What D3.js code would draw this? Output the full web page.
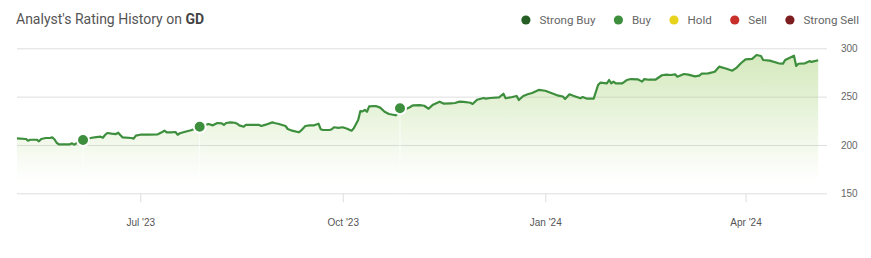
<!DOCTYPE html>
<html>
<head>
<meta charset="utf-8">
<script src="https://d3js.org/d3.v7.min.js"></script>
<style>
  body { margin: 0; background: #fff; font-family: Roboto, "Noto Sans", sans-serif; }
  .grid line { stroke: #dedede; }
  .grid text { fill: #666; font-size: 10px; }
  .x-axis line { stroke: #dedede; }
  .x-axis text { fill: #555; font-size: 10px; }
  .legend-text { fill: #666; font-size: 11.6px; }
</style>
</head>
<body>
<div id="wrapper"></div>
<script>
// price history
const priceDates = [
  "2023-05-06","2023-05-10","2023-05-11","2023-05-12","2023-05-15","2023-05-16","2023-05-17","2023-05-19","2023-05-21","2023-05-22",
  "2023-05-23","2023-05-24","2023-05-25","2023-05-26","2023-05-30","2023-05-31","2023-06-01","2023-06-03","2023-06-05","2023-06-09",
  "2023-06-11","2023-06-13","2023-06-14","2023-06-15","2023-06-16","2023-06-18","2023-06-20","2023-06-21","2023-06-22","2023-06-23",
  "2023-06-27","2023-06-28","2023-06-29","2023-07-01","2023-07-05","2023-07-09","2023-07-11","2023-07-12","2023-07-13","2023-07-15",
  "2023-07-17","2023-07-18","2023-07-19","2023-07-21","2023-07-24","2023-07-26","2023-07-28",
  "2023-08-01","2023-08-03","2023-08-05","2023-08-07","2023-08-08","2023-08-09","2023-08-11","2023-08-13","2023-08-14","2023-08-15",
  "2023-08-17","2023-08-18","2023-08-21","2023-08-24","2023-08-25","2023-08-27","2023-08-30","2023-08-31","2023-09-02","2023-09-05",
  "2023-09-06","2023-09-08","2023-09-11","2023-09-12","2023-09-14","2023-09-16","2023-09-18","2023-09-20","2023-09-21","2023-09-22",
  "2023-09-25","2023-09-26","2023-09-27","2023-09-29",
  "2023-10-01","2023-10-03","2023-10-05","2023-10-06","2023-10-08","2023-10-09","2023-10-10","2023-10-11","2023-10-12","2023-10-13",
  "2023-10-16","2023-10-18","2023-10-20","2023-10-22","2023-10-25","2023-10-27","2023-10-31",
  "2023-11-02","2023-11-05","2023-11-07","2023-11-09","2023-11-11","2023-11-14","2023-11-16","2023-11-19","2023-11-21","2023-11-23",
  "2023-11-25","2023-11-28","2023-11-29",
  "2023-12-01","2023-12-04","2023-12-05","2023-12-07","2023-12-11","2023-12-13","2023-12-14","2023-12-17","2023-12-19","2023-12-20",
  "2023-12-22","2023-12-24","2023-12-26","2023-12-29",
  "2024-01-01","2024-01-04","2024-01-07","2024-01-09","2024-01-10","2024-01-12","2024-01-14","2024-01-17","2024-01-18","2024-01-20",
  "2024-01-23","2024-01-25","2024-01-26","2024-01-29","2024-01-30","2024-01-31",
  "2024-02-01","2024-02-02","2024-02-05","2024-02-07","2024-02-09","2024-02-12","2024-02-14","2024-02-15","2024-02-17","2024-02-20",
  "2024-02-23","2024-02-25","2024-02-27","2024-02-29",
  "2024-03-01","2024-03-04","2024-03-06","2024-03-09","2024-03-11","2024-03-12","2024-03-15","2024-03-18","2024-03-20","2024-03-23",
  "2024-03-26","2024-03-28","2024-03-30",
  "2024-04-01","2024-04-04","2024-04-06","2024-04-08","2024-04-09","2024-04-12","2024-04-16","2024-04-18","2024-04-19","2024-04-23",
  "2024-04-24","2024-04-25","2024-04-28","2024-04-30","2024-05-01","2024-05-04"
]
const priceValues = [
  206.9,206.2,204.4,205.4,205.4,203.8,206.2,207.2,207.2,207.9,
  205.9,202.3,200.7,200.7,200.7,201.7,200.3,203.1,205.1,207.5,
  208.2,208.6,207.5,210.3,212.4,211.7,211.3,212.7,210.0,207.9,
  207.2,206.5,209.6,210.6,210.6,211.0,213.4,214.8,213.1,213.1,
  213.4,210.6,212.1,213.4,215.2,216.8,218.9,
  221.7,220.3,222.7,222.4,220.7,222.7,223.4,223.0,222.0,220.3,
  218.9,220.7,220.7,220.7,219.6,221.0,223.4,222.7,221.7,219.6,
  216.5,214.8,213.1,214.8,219.6,220.3,220.3,222.0,216.2,215.5,
  215.5,216.2,218.3,217.6,
  218.3,216.8,214.8,217.2,225.8,235.1,234.8,236.2,234.4,240.0,
  240.3,238.6,234.4,232.0,230.7,234.5,238.6,
  241.0,241.3,240.6,237.5,241.7,244.8,242.7,243.1,243.4,244.8,
  244.5,243.7,242.4,
  246.8,248.6,247.9,248.6,249.3,253.0,248.3,249.6,250.7,246.5,
  250.7,252.4,253.8,256.9,
  256.1,253.5,251.0,250.1,247.6,252.4,250.7,248.3,249.6,247.9,
  247.9,262.0,264.4,263.8,267.2,263.8,
  265.5,263.8,263.8,267.2,268.2,267.9,265.5,268.2,267.5,267.5,
  272.1,272.7,272.4,273.1,
  270.6,273.4,272.7,271.0,271.7,273.7,274.1,275.8,281.0,279.1,
  276.8,280.1,284.8,
  288.6,289.1,293.1,292.0,287.9,287.2,284.5,284.1,287.9,292.3,
  281.7,284.0,284.5,286.7,286.0,287.6
]

// analyst ratings shown as dots
const ratingDates = ["2023-06-05", "2023-07-28", "2023-10-27"]
const ratingValues = [205.1, 218.9, 237.9]
const ratingKinds = ["Buy", "Buy", "Buy"]

// legend
const ratingCategories = ["Strong Buy", "Buy", "Hold", "Sell", "Strong Sell"]
const ratingColors = ["#265e26", "#3d8f3d", "#e8d31c", "#c9302c", "#7d1d1f"]

// axes
const yTicks = [150, 200, 250, 300]
const xTicks = ["2023-07-01", "2023-10-01", "2024-01-01", "2024-04-01"]
const xDomain = ["2023-05-06", "2024-05-08"]

function drawChart() {
  const parseDate = d3.timeParse("%Y-%m-%d")
  const dataset = priceDates.map((d, i) => ({ date: parseDate(d), value: priceValues[i] }))
  const ratings = ratingDates.map((d, i) => ({ date: parseDate(d), value: ratingValues[i], kind: ratingKinds[i] }))
  const xAccessor = d => d.date
  const yAccessor = d => d.value
  const colorOf = kind => ratingColors[ratingCategories.indexOf(kind)]

  let dimensions = {
    width: 871,
    height: 258,
    margin: { top: 48.3, right: 44, bottom: 64.7, left: 17 },
  }
  dimensions.boundedWidth = dimensions.width - dimensions.margin.left - dimensions.margin.right
  dimensions.boundedHeight = dimensions.height - dimensions.margin.top - dimensions.margin.bottom

  const wrapper = d3.select("#wrapper")
    .append("svg")
      .attr("width", dimensions.width)
      .attr("height", dimensions.height)

  // title
  const title = wrapper.append("text")
      .attr("x", 16)
      .attr("y", 24)
      .style("font-size", "14px")
      .style("fill", "#555")
  title.append("tspan").text("Analyst's Rating History on ")
  title.append("tspan").style("font-weight", "bold").style("fill", "#444").text("GD")

  // legend, laid out left to right then pushed against the right edge
  const legendGroup = wrapper.append("g")
  const legendItems = legendGroup.selectAll(".legend-item")
    .data(ratingCategories)
    .join("g")
      .attr("class", "legend-item")
  legendItems.append("circle")
      .attr("r", 4.6)
      .attr("fill", (d, i) => ratingColors[i])
  legendItems.append("text")
      .attr("class", "legend-text")
      .attr("x", 13.5)
      .attr("y", 4.3)
      .text(d => d)
  let cursor = 0
  legendItems.each(function () {
    const w = d3.select(this).select("text").node().getComputedTextLength()
    d3.select(this).attr("transform", `translate(${cursor}, 0)`)
    cursor += 13.5 + w + 23
  })
  const legendWidth = cursor - 23
  legendGroup.attr("transform", `translate(${859 - legendWidth}, 20)`)

  const bounds = wrapper.append("g")
    .attr("transform", `translate(${dimensions.margin.left}, ${dimensions.margin.top})`)

  // scales
  const xScale = d3.scaleTime()
    .domain(xDomain.map(parseDate))
    .range([0, dimensions.boundedWidth])

  const yScale = d3.scaleLinear()
    .domain([150, 300])
    .range([dimensions.boundedHeight, 0])

  // gradient for the area under the line
  const defs = wrapper.append("defs")
  const gradient = defs.append("linearGradient")
      .attr("id", "area-gradient")
      .attr("gradientUnits", "userSpaceOnUse")
      .attr("x1", 0).attr("x2", 0)
      .attr("y1", yScale(300))
      .attr("y2", yScale(163))
  gradient.append("stop").attr("offset", "0%").attr("stop-color", "#9ccc65").attr("stop-opacity", 0.45)
  gradient.append("stop").attr("offset", "100%").attr("stop-color", "#9ccc65").attr("stop-opacity", 0)

  // y grid + labels on the right
  const yAxisGenerator = d3.axisRight(yScale)
    .tickValues(yTicks)
    .tickSize(-dimensions.boundedWidth)
    .tickPadding(14)
  const yAxis = bounds.append("g")
      .attr("class", "grid")
      .attr("transform", `translate(${dimensions.boundedWidth}, 0)`)
      .call(yAxisGenerator)
  yAxis.select(".domain").remove()

  // x axis ticks and labels
  const xAxisGenerator = d3.axisBottom(xScale)
    .tickValues(xTicks.map(parseDate))
    .tickFormat(d3.timeFormat("%b '%y"))
    .tickSize(9)
    .tickPadding(17)
  const xAxis = bounds.append("g")
      .attr("class", "x-axis")
      .attr("transform", `translate(0, ${dimensions.boundedHeight})`)
      .call(xAxisGenerator)
  xAxis.select(".domain").remove()

  // area
  const areaGenerator = d3.area()
    .x(d => xScale(xAccessor(d)))
    .y0(dimensions.boundedHeight)
    .y1(d => yScale(yAccessor(d)))
  bounds.append("path")
      .attr("d", areaGenerator(dataset))
      .attr("fill", "url(#area-gradient)")

  // faint markers below each rating
  bounds.selectAll(".rating-stem")
    .data(ratings)
    .join("line")
      .attr("class", "rating-stem")
      .attr("x1", d => xScale(xAccessor(d)))
      .attr("x2", d => xScale(xAccessor(d)))
      .attr("y1", d => yScale(yAccessor(d)))
      .attr("y2", dimensions.boundedHeight)
      .attr("stroke", "#fff")
      .attr("stroke-width", 1)
      .attr("opacity", 0.8)

  // price line
  const lineGenerator = d3.line()
    .x(d => xScale(xAccessor(d)))
    .y(d => yScale(yAccessor(d)))
  bounds.append("path")
      .attr("d", lineGenerator(dataset))
      .attr("fill", "none")
      .attr("stroke", "#3d8f3d")
      .attr("stroke-width", 2.2)
      .attr("stroke-linejoin", "round")

  // rating dots
  bounds.selectAll(".rating-dot")
    .data(ratings)
    .join("circle")
      .attr("class", "rating-dot")
      .attr("cx", d => xScale(xAccessor(d)))
      .attr("cy", d => yScale(yAccessor(d)))
      .attr("r", 6)
      .attr("fill", d => colorOf(d.kind))
      .attr("stroke", "#fff")
      .attr("stroke-width", 2)
}
drawChart()
</script>
</body>
</html>
